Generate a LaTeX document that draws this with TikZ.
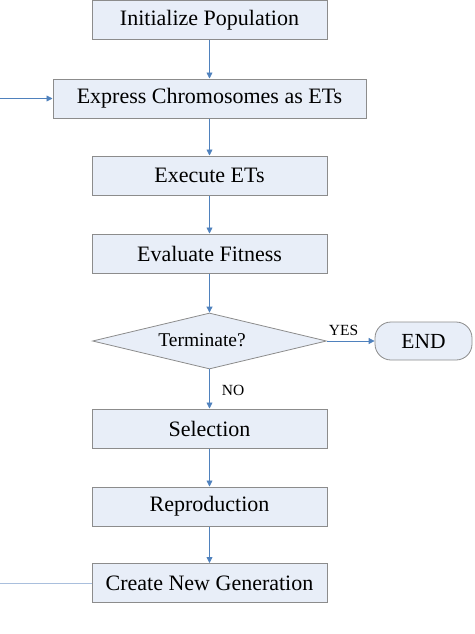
\documentclass[tikz,border=0pt]{standalone}
\usepackage{fontspec}
\setmainfont{Liberation Serif}
\usetikzlibrary{shapes.geometric,arrows.meta}
\definecolor{boxfill}{HTML}{E8EEF8}
\definecolor{boxdraw}{HTML}{8C8C8C}
\definecolor{arrowblue}{HTML}{4F81BD}
\definecolor{faintblue}{HTML}{A9BFDD}
\begin{document}
\begin{tikzpicture}[x=1pt,y=-1pt,
  box/.style={draw=boxdraw,fill=boxfill,line width=1pt,minimum height=39pt,inner sep=0pt,font=\fontsize{22}{26}\selectfont},
  arr/.style={draw=arrowblue,line width=0.8pt,-{Triangle[length=6pt,width=6pt]}},
  lbl/.style={font=\fontsize{15.5}{18}\selectfont,inner sep=0pt}
]
\useasboundingbox (0,0) rectangle (474,634);
\node[box,minimum width=235pt] (init) at (209.5,20.5) {Initialize Population};
\node[box,minimum width=313pt] (expr) at (209.5,98.5) {Express Chromosomes as ETs};
\node[box,minimum width=235pt] (exec) at (209.5,175.5) {Execute ETs};
\node[box,minimum width=235pt] (eval) at (209.5,253.5) {Evaluate Fitness};
\node[draw=boxdraw,fill=boxfill,line width=0.8pt,inner sep=0pt,
  shape=diamond,aspect=4.18,minimum width=234pt,minimum height=56pt] (term) at (209.5,341) {};
\node[font=\fontsize{19.5}{23}\selectfont] (termtxt) at (202,340) {Terminate?};
\node[draw=boxdraw,fill=boxfill,line width=0.8pt,rounded corners=16pt,minimum width=97pt,minimum height=38pt,inner sep=0pt,font=\fontsize{21.5}{25}\selectfont] (end) at (423.5,341) {END};
\node[box,minimum width=235pt] (sel) at (209.5,428.5) {Selection};
\node[box,minimum width=235pt] (rep) at (209.5,506.5) {Reproduction};
\node[box,minimum width=235pt] (gen) at (209.5,583) {Create New Generation};
\coordinate (inl) at (0,98.5);
\coordinate (outl) at (0,583);
\draw[arr] (init) -- (expr);
\draw[arr] (inl) -- (expr);
\draw[arr] (expr) -- (exec);
\draw[arr] (exec) -- (eval);
\draw[arr] (eval) -- (term);
\draw[arr] (term.east) -- node[lbl,above=5pt,pos=0.35] {YES} (end);
\draw[arr] (term) -- node[lbl,right=12pt,pos=0.55] {NO} (sel);
\draw[arr] (sel) -- (rep);
\draw[arr] (rep) -- (gen);
\draw[draw=faintblue,line width=1pt] (gen) -- (outl);
\end{tikzpicture}
\end{document}
